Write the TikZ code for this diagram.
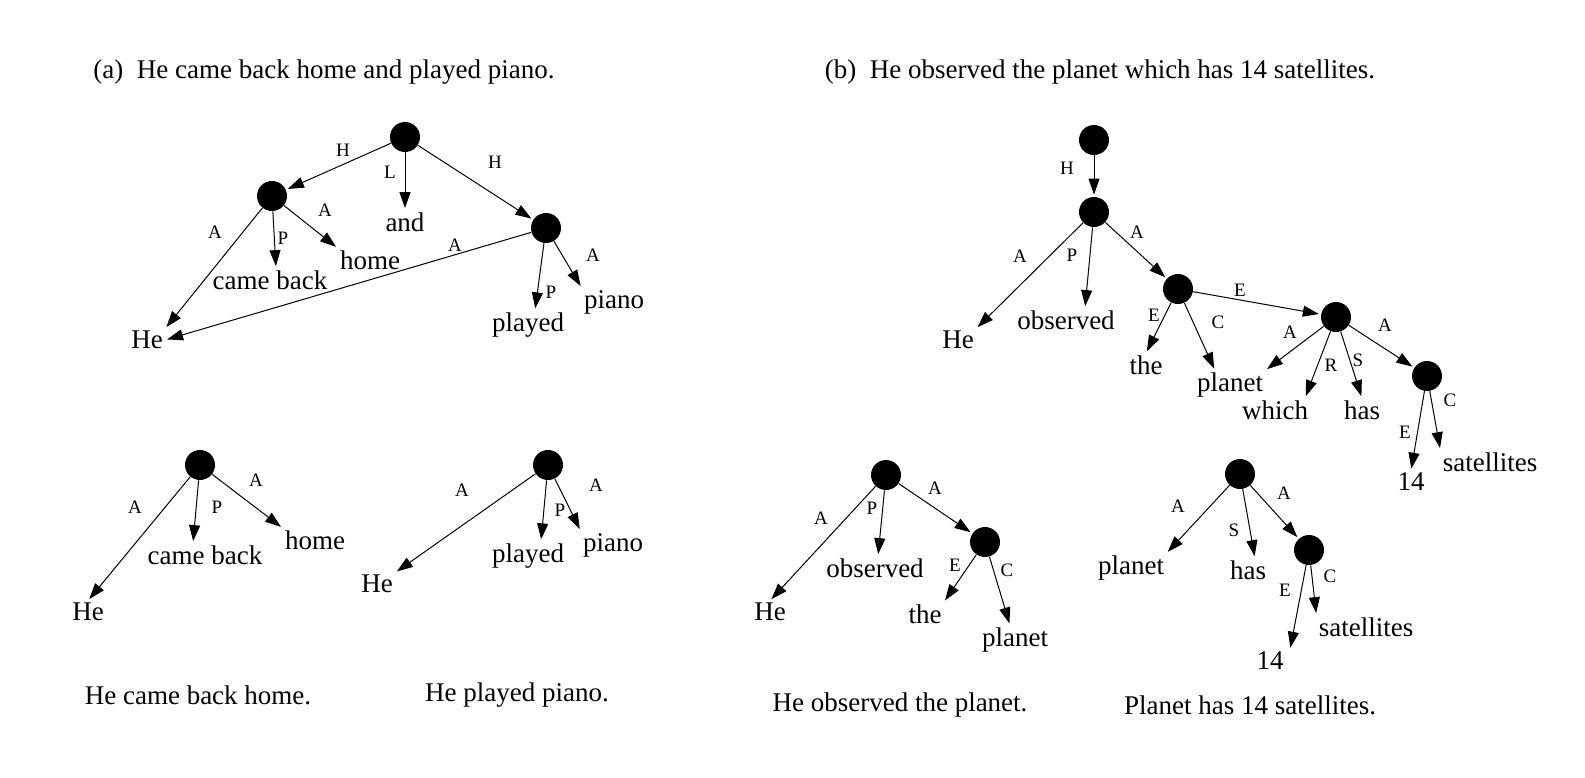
\documentclass[tikz,border=0pt]{standalone}
\usepackage{fontspec}
\setmainfont{Liberation Serif}
\usetikzlibrary{arrows.meta}
\begin{document}
\begin{tikzpicture}[x=0.5pt,y=-0.5pt,
  dot/.style={circle,fill=black,inner sep=0pt,minimum size=15pt},
  word/.style={font=\fontsize{13.5}{15}\selectfont,inner sep=1pt},
  lab/.style={font=\fontsize{9.5}{10}\selectfont,inner sep=0pt},
  captext/.style={font=\fontsize{13.5}{15}\selectfont},
  edge/.style={-{Triangle[length=8pt,width=5.5pt]},line width=0.5pt,shorten >=1pt}]
\useasboundingbox (0,0) rectangle (1585,777);
% titles
\node[captext] (ta) at (324,72) {(a)\ \ He came back home and played piano.};
\node[captext] (tb) at (1100,72) {(b)\ \ He observed the planet which has 14 satellites.};
% (a) top
\node[dot] (a0) at (405,137) {};
\node[dot] (a1) at (272,196) {};
\node[dot] (a2) at (546,228) {};
\node[word] (aand) at (405,222) {and};
\node[word] (acb) at (270,280) {came back};
\node[word] (ahome) at (370,260) {home};
\node[word] (ahe) at (147,340) {He};
\node[word] (apl) at (528,325) {played};
\node[word] (api) at (614,302) {piano};
\draw[edge] (a0) -- (a1); \node[lab] (l1) at (343,150) {H};
\draw[edge] (a0) -- (aand); \node[lab] (l2) at (390,172) {L};
\draw[edge] (a0) -- (a2); \node[lab] (l3) at (495,162) {H};
\draw[edge] (a1) -- (ahe.north east); \node[lab] (l4) at (215,232) {A};
\draw[edge] (a1) -- (acb.north -| 276,0); \node[lab] (l5) at (283,238) {P};
\draw[edge] (a1) -- (ahome.north west); \node[lab] (l6) at (325,210) {A};
\draw[edge] (a2) -- (ahe.east); \node[lab] (l7) at (455,245) {A};
\draw[edge] (a2) -- (apl.north -| 535,0); \node[lab] (l8) at (551,292) {P};
\draw[edge] (a2) -- (api.north west); \node[lab] (l9) at (593,255) {A};
% (a) bottom left
\node[dot] (b0) at (200,465) {};
\node[word] (bcb) at (205,555) {came back};
\node[word] (bhome) at (315,540) {home};
\node[word] (bhe) at (88,612) {He};
\draw[edge] (b0) -- (bhe.north); \node[lab] (m1) at (135,507) {A};
\draw[edge] (b0) -- (bcb.north -| 193,0); \node[lab] (m2) at (217,507) {P};
\draw[edge] (b0) -- (bhome.north west); \node[lab] (m3) at (256,480) {A};
% (a) bottom middle
\node[dot] (c0) at (548,465) {};
\node[word] (che) at (377,584) {He};
\node[word] (cpl) at (528,556) {played};
\node[word] (cpi) at (613,545) {piano};
\draw[edge] (c0) -- (che.north east); \node[lab] (m4) at (462,490) {A};
\draw[edge] (c0) -- (cpl.north -| 541,0); \node[lab] (m5) at (560,510) {P};
\draw[edge] (c0) -- (cpi.north west); \node[lab] (m6) at (596,485) {A};
\node[captext] (capa1) at (198,695) {He came back home.};
\node[captext] (capa2) at (517,695) {He played piano.};
% (b) top
\node[dot] (d0) at (1094,140) {};
\node[dot] (d1) at (1094,212) {};
\node[dot] (d2) at (1178,289) {};
\node[dot] (d3) at (1336,317) {};
\node[dot] (d4) at (1427,376) {};
\node[word] (dhe) at (958,340) {He};
\node[word] (dob) at (1066,320) {observed};
\node[word] (dthe) at (1146,365) {the};
\node[word] (dpl) at (1230,385) {planet};
\node[word] (dwh) at (1275,410) {which};
\node[word] (dhas) at (1362,410) {has};
\node[word] (d14) at (1411,482) {14};
\node[word] (dsat) at (1490,462) {satellites};
\draw[edge] (d0) -- (d1); \node[lab] (n1) at (1067,168) {H};
\draw[edge] (d1) -- (dhe.north east); \node[lab] (n2) at (1020,256) {A};
\draw[edge] (d1) -- (dob.north -| 1085,0); \node[lab] (n3) at (1072,255) {P};
\draw[edge] (d1) -- (d2); \node[lab] (n4) at (1137,232) {A};
\draw[edge] (d2) -- (dthe.north); \node[lab] (n5) at (1154,315) {E};
\draw[edge] (d2) -- (dpl.north -| 1215,0); \node[lab] (n6) at (1218,322) {C};
\draw[edge] (d2) -- (d3); \node[lab] (n7) at (1240,290) {E};
\draw[edge] (d3) -- (dpl.north east); \node[lab] (n8) at (1290,332) {A};
\draw[edge] (d3) -- (dwh.north -| 1305,0); \node[lab] (n9) at (1331,365) {R};
\draw[edge] (d3) -- (dhas.north); \node[lab] (n10) at (1358,360) {S};
\draw[edge] (d3) -- (d4); \node[lab] (n11) at (1385,325) {A};
\draw[edge] (d4) -- (d14.north); \node[lab] (n12) at (1405,432) {E};
\draw[edge] (d4) -- (dsat.north west); \node[lab] (n13) at (1450,400) {C};
% (b) bottom middle
\node[dot] (e0) at (886,475) {};
\node[dot] (e1) at (985,542) {};
\node[word] (ehe) at (770,612) {He};
\node[word] (eob) at (875,568) {observed};
\node[word] (ethe) at (925,614) {the};
\node[word] (epl) at (1015,640) {planet};
\draw[edge] (e0) -- (ehe.north); \node[lab] (o1) at (821,518) {A};
\draw[edge] (e0) -- (eob.north -| 878,0); \node[lab] (o2) at (872,508) {P};
\draw[edge] (e0) -- (e1); \node[lab] (o3) at (935,488) {A};
\draw[edge] (e1) -- (ethe.north east); \node[lab] (o4) at (955,565) {E};
\draw[edge] (e1) -- (epl.north -| 1010,0); \node[lab] (o5) at (1007,570) {C};
% (b) bottom right
\node[dot] (f0) at (1240,474) {};
\node[dot] (f1) at (1309,550) {};
\node[word] (fpl) at (1131,568) {planet};
\node[word] (fhas) at (1248,570) {has};
\node[word] (f14) at (1270,661) {14};
\node[word] (fsat) at (1366,627) {satellites};
\draw[edge] (f0) -- (fpl.north east); \node[lab] (p1) at (1178,506) {A};
\draw[edge] (f0) -- (fhas.north -| 1255,0); \node[lab] (p2) at (1234,530) {S};
\draw[edge] (f0) -- (f1); \node[lab] (p3) at (1284,493) {A};
\draw[edge] (f1) -- (f14.north -| 1290,0); \node[lab] (p4) at (1285,590) {E};
\draw[edge] (f1) -- (fsat.north west); \node[lab] (p5) at (1330,576) {C};
\node[captext] (capb1) at (900,705) {He observed the planet.};
\node[captext] (capb2) at (1250,705) {Planet has 14 satellites.};
\end{tikzpicture}
\end{document}
